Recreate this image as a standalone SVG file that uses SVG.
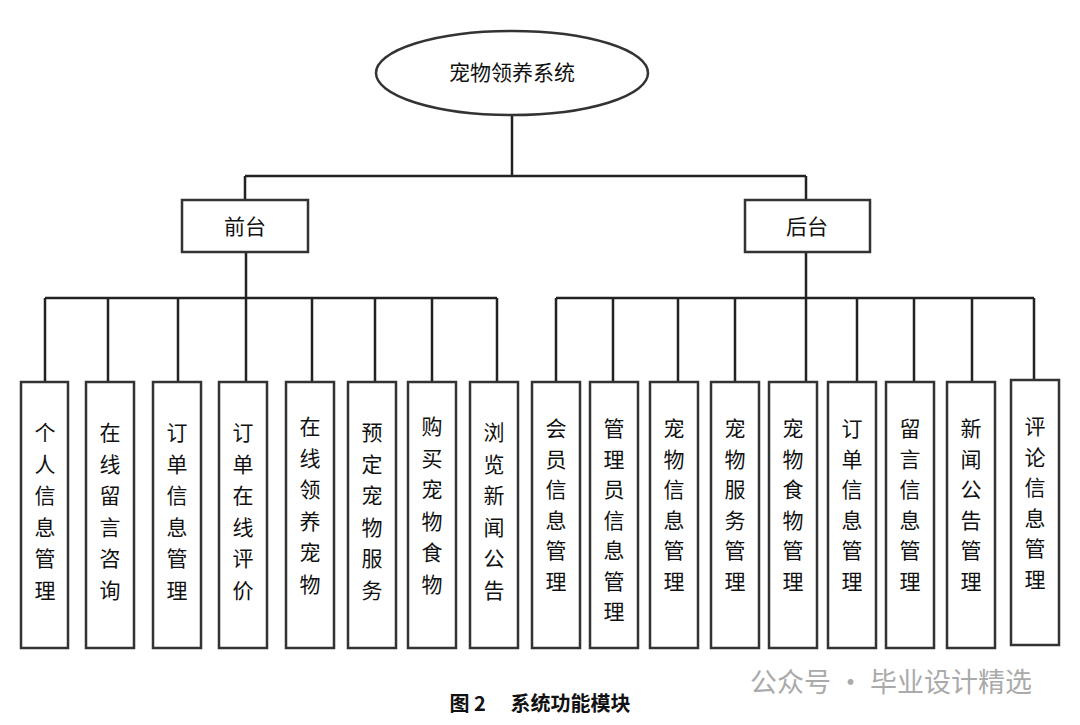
<svg xmlns="http://www.w3.org/2000/svg" width="1080" height="725" viewBox="0 0 1080 725">
<style>
.b{fill:#fff;stroke:#333;stroke-width:2.5}
.c{fill:none;stroke:#222;stroke-width:2.5}
.t{font-family:"Noto Sans CJK SC",sans-serif;font-size:21px;fill:#111;text-anchor:middle}
</style>
<rect width="1080" height="725" fill="#fff"/>
<g id="connectors" class="c">
<path d="M512 115V176M245 176H806M245 176V200M806 176V200"/>
<path d="M246 252V298M45 298H497M45 298V382M108 298V382M178 298V382M246 298V382M312 298V382M375 298V382M432 298V382M497 298V382"/>
<path d="M806 252V298M556 298H1034M556 298V382M613 298V382M678 298V382M735 298V382M806 298V382M857 298V382M914 298V382M972 298V382M1034 298V380"/>
</g>
<g id="root"><ellipse class="b" cx="512" cy="73" rx="136" ry="42"/><text class="t" x="512" y="80">宠物领养系统</text></g>
<g id="front"><rect class="b" x="182" y="200" width="126" height="52"/><text class="t" x="245" y="234">前台</text></g>
<g id="back"><rect class="b" x="745" y="200" width="125" height="52"/><text class="t" x="807" y="234">后台</text></g>
<g id="l1"><rect class="b" x="21" y="382" width="47" height="266"/><text class="t" x="45" y="440"><tspan x="45">个</tspan><tspan x="45" dy="31.6">人</tspan><tspan x="45" dy="31.6">信</tspan><tspan x="45" dy="31.6">息</tspan><tspan x="45" dy="31.6">管</tspan><tspan x="45" dy="31.6">理</tspan></text></g>
<g id="l2"><rect class="b" x="86" y="382" width="48" height="266"/><text class="t" x="110" y="440"><tspan x="110">在</tspan><tspan x="110" dy="31.6">线</tspan><tspan x="110" dy="31.6">留</tspan><tspan x="110" dy="31.6">言</tspan><tspan x="110" dy="31.6">咨</tspan><tspan x="110" dy="31.6">询</tspan></text></g>
<g id="l3"><rect class="b" x="153" y="382" width="48" height="266"/><text class="t" x="177" y="440"><tspan x="177">订</tspan><tspan x="177" dy="31.6">单</tspan><tspan x="177" dy="31.6">信</tspan><tspan x="177" dy="31.6">息</tspan><tspan x="177" dy="31.6">管</tspan><tspan x="177" dy="31.6">理</tspan></text></g>
<g id="l4"><rect class="b" x="219" y="382" width="48" height="266"/><text class="t" x="243" y="440"><tspan x="243">订</tspan><tspan x="243" dy="31.6">单</tspan><tspan x="243" dy="31.6">在</tspan><tspan x="243" dy="31.6">线</tspan><tspan x="243" dy="31.6">评</tspan><tspan x="243" dy="31.6">价</tspan></text></g>
<g id="l5"><rect class="b" x="286" y="382" width="48" height="266"/><text class="t" x="310" y="434"><tspan x="310">在</tspan><tspan x="310" dy="31.6">线</tspan><tspan x="310" dy="31.6">领</tspan><tspan x="310" dy="31.6">养</tspan><tspan x="310" dy="31.6">宠</tspan><tspan x="310" dy="31.6">物</tspan></text></g>
<g id="l6"><rect class="b" x="348" y="382" width="48" height="266"/><text class="t" x="372" y="440"><tspan x="372">预</tspan><tspan x="372" dy="31.6">定</tspan><tspan x="372" dy="31.6">宠</tspan><tspan x="372" dy="31.6">物</tspan><tspan x="372" dy="31.6">服</tspan><tspan x="372" dy="31.6">务</tspan></text></g>
<g id="l7"><rect class="b" x="408" y="382" width="48" height="266"/><text class="t" x="432" y="434"><tspan x="432">购</tspan><tspan x="432" dy="31.6">买</tspan><tspan x="432" dy="31.6">宠</tspan><tspan x="432" dy="31.6">物</tspan><tspan x="432" dy="31.6">食</tspan><tspan x="432" dy="31.6">物</tspan></text></g>
<g id="l8"><rect class="b" x="470" y="382" width="48" height="266"/><text class="t" x="494" y="440"><tspan x="494">浏</tspan><tspan x="494" dy="31.6">览</tspan><tspan x="494" dy="31.6">新</tspan><tspan x="494" dy="31.6">闻</tspan><tspan x="494" dy="31.6">公</tspan><tspan x="494" dy="31.6">告</tspan></text></g>
<g id="r1"><rect class="b" x="532" y="382" width="48" height="266"/><text class="t" x="556" y="436"><tspan x="556">会</tspan><tspan x="556" dy="30.5">员</tspan><tspan x="556" dy="30.5">信</tspan><tspan x="556" dy="30.5">息</tspan><tspan x="556" dy="30.5">管</tspan><tspan x="556" dy="30.5">理</tspan></text></g>
<g id="r2"><rect class="b" x="590" y="382" width="48" height="266"/><text class="t" x="614" y="436"><tspan x="614">管</tspan><tspan x="614" dy="30.5">理</tspan><tspan x="614" dy="30.5">员</tspan><tspan x="614" dy="30.5">信</tspan><tspan x="614" dy="30.5">息</tspan><tspan x="614" dy="30.5">管</tspan><tspan x="614" dy="30.5">理</tspan></text></g>
<g id="r3"><rect class="b" x="650" y="382" width="48" height="266"/><text class="t" x="674" y="436"><tspan x="674">宠</tspan><tspan x="674" dy="30.5">物</tspan><tspan x="674" dy="30.5">信</tspan><tspan x="674" dy="30.5">息</tspan><tspan x="674" dy="30.5">管</tspan><tspan x="674" dy="30.5">理</tspan></text></g>
<g id="r4"><rect class="b" x="711" y="382" width="48" height="266"/><text class="t" x="735" y="436"><tspan x="735">宠</tspan><tspan x="735" dy="30.5">物</tspan><tspan x="735" dy="30.5">服</tspan><tspan x="735" dy="30.5">务</tspan><tspan x="735" dy="30.5">管</tspan><tspan x="735" dy="30.5">理</tspan></text></g>
<g id="r5"><rect class="b" x="769" y="382" width="48" height="266"/><text class="t" x="793" y="436"><tspan x="793">宠</tspan><tspan x="793" dy="30.5">物</tspan><tspan x="793" dy="30.5">食</tspan><tspan x="793" dy="30.5">物</tspan><tspan x="793" dy="30.5">管</tspan><tspan x="793" dy="30.5">理</tspan></text></g>
<g id="r6"><rect class="b" x="828" y="382" width="48" height="266"/><text class="t" x="852" y="436"><tspan x="852">订</tspan><tspan x="852" dy="30.5">单</tspan><tspan x="852" dy="30.5">信</tspan><tspan x="852" dy="30.5">息</tspan><tspan x="852" dy="30.5">管</tspan><tspan x="852" dy="30.5">理</tspan></text></g>
<g id="r7"><rect class="b" x="886" y="382" width="48" height="266"/><text class="t" x="910" y="436"><tspan x="910">留</tspan><tspan x="910" dy="30.5">言</tspan><tspan x="910" dy="30.5">信</tspan><tspan x="910" dy="30.5">息</tspan><tspan x="910" dy="30.5">管</tspan><tspan x="910" dy="30.5">理</tspan></text></g>
<g id="r8"><rect class="b" x="947" y="382" width="48" height="266"/><text class="t" x="971" y="436"><tspan x="971">新</tspan><tspan x="971" dy="30.5">闻</tspan><tspan x="971" dy="30.5">公</tspan><tspan x="971" dy="30.5">告</tspan><tspan x="971" dy="30.5">管</tspan><tspan x="971" dy="30.5">理</tspan></text></g>
<g id="r9"><rect class="b" x="1011" y="380" width="48" height="265"/><text class="t" x="1035" y="434"><tspan x="1035">评</tspan><tspan x="1035" dy="30.5">论</tspan><tspan x="1035" dy="30.5">信</tspan><tspan x="1035" dy="30.5">息</tspan><tspan x="1035" dy="30.5">管</tspan><tspan x="1035" dy="30.5">理</tspan></text></g>
<text x="540" y="711" style="font-family:'Noto Sans CJK SC',sans-serif;font-size:20px;font-weight:bold;fill:#111;text-anchor:middle" xml:space="preserve">图 2　 系统功能模块</text>
<text x="750" y="692" style="font-family:'Noto Sans CJK SC',sans-serif;font-size:27px;fill:#aaa">公众号 · 毕业设计精选</text>
</svg>
